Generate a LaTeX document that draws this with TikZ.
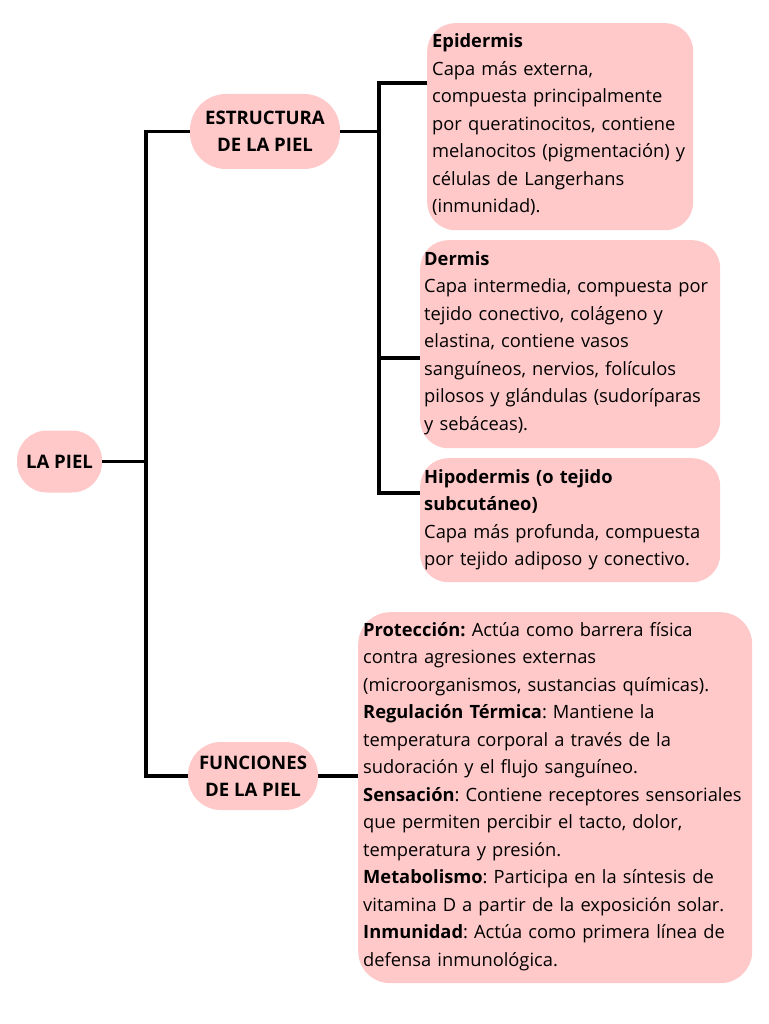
\documentclass[tikz,border=0pt]{standalone}
\usepackage{fontspec}
\setmainfont{Open Sans}
\usetikzlibrary{calc}
\definecolor{pinkfill}{HTML}{FFC9C9}
\tikzset{
  conn/.style={line width=3.8pt, black, line join=miter},
  pill/.style={fill=pinkfill, draw=none, inner sep=0pt, align=center,
     font=\fontsize{18.6}{27.5}\selectfont\bfseries},
  infobox/.style={fill=pinkfill, draw=none, inner sep=0pt, rounded corners=28pt, anchor=north west},
  infotext/.style={inner sep=0pt, anchor=base west, align=left, text width=395pt,
     font=\fontsize{18.3}{27.5}\selectfont\frenchspacing}
}
\begin{document}
\begin{tikzpicture}[x=1pt,y=-1pt]
\useasboundingbox (0,0) rectangle (768,1024);

% pills
\node[pill, minimum width=85pt, minimum height=62pt, rounded corners=30pt] (lapiel) at (59.5,461.5) {LA PIEL};
\node[pill, minimum width=150pt, minimum height=75pt, rounded corners=36pt] (estr) at (265,131.5) {ESTRUCTURA\\DE LA PIEL};
\node[pill, minimum width=130pt, minimum height=68pt, rounded corners=33pt] (func) at (253,776) {FUNCIONES\\DE LA PIEL};

% boxes
\node[infobox, minimum width=266pt, minimum height=207pt] (epi) at (427,23) {};
\node[infobox, minimum width=300pt, minimum height=208pt] (derm) at (420,240) {};
\node[infobox, minimum width=300pt, minimum height=124pt] (hipo) at (420,458) {};
\node[infobox, minimum width=394pt, minimum height=371pt, rounded corners=32pt] (funcbox) at (358,612) {};

% texts
\node[infotext] (epitxt) at (432,48) {\textbf{Epidermis}\\
Capa más externa,\\
compuesta principalmente\\
por queratinocitos, contiene\\
melanocitos (pigmentación) y\\
células de Langerhans\\
(inmunidad).};

\node[infotext] (dermtxt) at (424,265) {\textbf{Dermis}\\
Capa intermedia, compuesta por\\
tejido conectivo, colágeno y\\
elastina, contiene vasos\\
sanguíneos, nervios, folículos\\
pilosos y glándulas (sudoríparas\\
y sebáceas).};

\node[infotext] (hipotxt) at (424,483) {\textbf{Hipodermis (o tejido}\\
\textbf{subcutáneo)}\\
Capa más profunda, compuesta\\
por tejido adiposo y conectivo.};

\node[infotext] (functxt) at (363,636) {\textbf{Protección:} Actúa como barrera física\\
contra agresiones externas\\
(microorganismos, sustancias químicas).\\
\textbf{Regulación Térmica}: Mantiene la\\
temperatura corporal a través de la\\
sudoración y el flujo sanguíneo.\\
\textbf{Sensación}: Contiene receptores sensoriales\\
que permiten percibir el tacto, dolor,\\
temperatura y presión.\\
\textbf{Metabolismo}: Participa en la síntesis de\\
vitamina D a partir de la exposición solar.\\
\textbf{Inmunidad}: Actúa como primera línea de\\
defensa inmunológica.};

% connector coordinates
\coordinate (tk) at (lapiel.east -| 146,0);
\coordinate (br) at (379,131.5);
\coordinate (epiC) at ($(epi.north west)+(0,60)$);
\coordinate (dermC) at ($(derm.north west)+(0,118)$);
\coordinate (hipoC) at ($(hipo.north west)+(0,35)$);

% connectors
\draw[conn] (lapiel.east) -- (tk);
\draw[conn] (estr.west) -| (tk) |- (func.west);
\draw[conn] (estr.east) -- (br);
\draw[conn] (epiC) -| (br) |- (hipoC);
\draw[conn] (dermC) -- (br |- dermC);
\draw[conn] (func.east) -- (funcbox.west |- func.east);
\end{tikzpicture}
\end{document}
